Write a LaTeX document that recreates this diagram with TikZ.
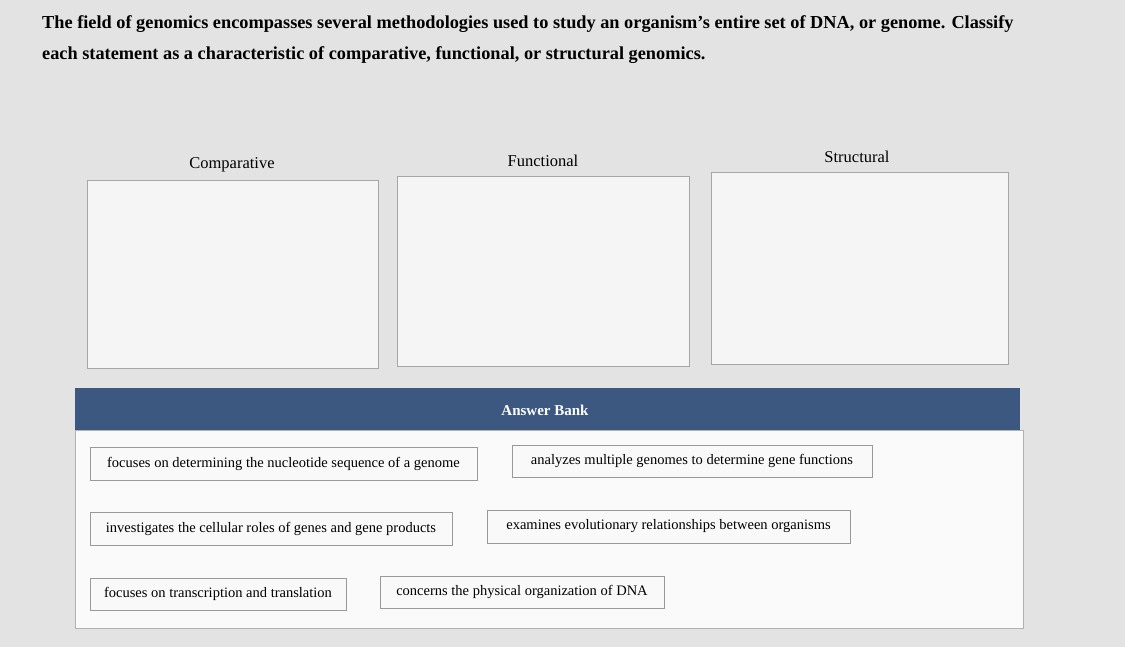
\documentclass[tikz,border=0pt]{standalone}
\usepackage{fontspec}
\setmainfont{Liberation Serif}
\begin{document}
\begin{tikzpicture}[x=1pt,y=-1pt,
  bin/.style={draw=gray!70,fill=white!92!gray,line width=0.8pt},
  chip/.style={draw=gray!80,fill=white!95!gray,line width=0.8pt,anchor=north west,inner sep=0pt},
  chiptxt/.style={font=\fontsize{14.5}{16}\selectfont},
  hdr/.style={font=\fontsize{16.5}{18}\selectfont}]
\fill[gray!22] (0,0) rectangle (1125,647);
\useasboundingbox (0,0) rectangle (1125,647);
\node[anchor=west,font=\fontsize{18.3}{20}\selectfont\bfseries,inner sep=0pt] (t1) at (42,24) {The field of genomics encompasses several methodologies used to study an organism's entire set of DNA, or genome. Classify};
\node[anchor=west,font=\fontsize{18.3}{20}\selectfont\bfseries,inner sep=0pt] (t2) at (42,55) {each statement as a characteristic of comparative, functional, or structural genomics.};
\node[hdr] (hc) at (232,165) {Comparative};
\node[hdr] (hf) at (543,161) {Functional};
\node[hdr] (hs) at (857,157) {Structural};
\draw[bin] (87,180) rectangle (378,368);
\draw[bin] (397,176) rectangle (689,366);
\draw[bin] (711,172) rectangle (1008,364);
\fill[white!96!gray,draw=gray!60] (75,430) rectangle (1023,628);
\fill[fill={rgb,255:red,60;green,88;blue,128}] (75,388) rectangle (1020,430);
\node[text=white,font=\fontsize{15}{17}\selectfont\bfseries] (ab) at (545,410) {Answer Bank};
\foreach \x/\y/\xx/\yy/\t/\n in {
 90/447/477/480/{focuses on determining the nucleotide sequence of a genome}/c1,
 512/445/872/477/{analyzes multiple genomes to determine gene functions}/c2,
 90/512/452/545/{investigates the cellular roles of genes and gene products}/c3,
 487/510/850/543/{examines evolutionary relationships between organisms}/c4,
 90/578/346/610/{focuses on transcription and translation}/c5,
 380/576/664/608/{concerns the physical organization of DNA}/c6}{
 \draw[chip] (\x,\y) rectangle (\xx,\yy);
 \node[chiptxt] (\n) at ({(\x+\xx)/2},{(\y+\yy)/2}) {\t};
}
\end{tikzpicture}
\end{document}
